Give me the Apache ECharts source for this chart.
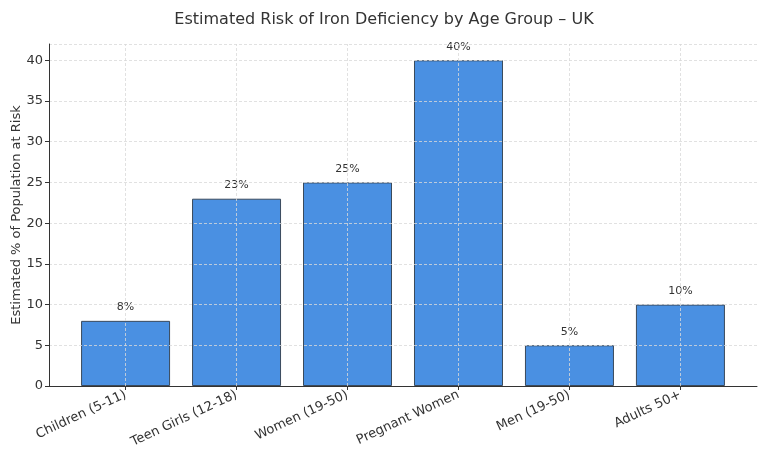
<!DOCTYPE html>
<html lang="en">

<head>
  <meta charset="UTF-8">
  <title>Iron deficiency</title>
  <script src="https://cdn.jsdelivr.net/npm/echarts@6/dist/echarts.min.js"></script>
  <style>
    body { margin: 0; }
  </style>
</head>

<body>
  <div id="chart" style="width: 768px;height:461px"></div>
  <script>
    // age groups and estimated % at risk
    var groups = ['Children (5-11)', 'Teen Girls (12-18)', 'Women (19-50)', 'Pregnant Women', 'Men (19-50)', 'Adults 50+']
    var risk = [8, 23, 25, 40, 5, 10]
    var positions = [0, 1, 2, 3, 4, 5]

    var font = 'DejaVu Sans'
    var gridLine = { color: '#d9d9d9', type: [3, 2], width: 0.8 }

    var barData = []
    for (var i = 0; i < risk.length; i++) {
      barData.push([positions[i], risk[i]])
    }

    var mCharts = echarts.init(document.getElementById('chart'))
    var option = {
      animation: false,
      title: {
        text: 'Estimated Risk of Iron Deficiency by Age Group – UK',
        left: 'center',
        top: 7,
        textStyle: { fontFamily: font, fontSize: 16, fontWeight: 'normal', color: '#333' }
      },
      grid: { left: 49, right: 11, top: 44, bottom: 75, outerBoundsMode: 'none', containLabel: false },
      xAxis: {
        type: 'value',
        min: -0.69,
        max: 5.69,
        z: 10,
        axisLine: { show: true, onZero: false, lineStyle: { color: '#333', width: 1 } },
        axisTick: { show: true, length: 4, customValues: positions, lineStyle: { color: '#333' } },
        axisLabel: {
          customValues: positions,
          rotate: 25,
          margin: 8,
          fontFamily: font,
          fontSize: 13,
          color: '#333',
          formatter: function (v) { return groups[Math.round(v)] }
        },
        splitLine: { show: false }
      },
      yAxis: {
        type: 'value',
        min: 0,
        max: 42,
        interval: 5,
        z: 10,
        name: 'Estimated % of Population at Risk',
        nameLocation: 'middle',
        nameGap: 26,
        nameMoveOverlap: false,
        nameTextStyle: { fontFamily: font, fontSize: 13, color: '#333' },
        axisLine: { show: true, onZero: false, lineStyle: { color: '#333', width: 1 } },
        axisTick: { show: true, length: 4, lineStyle: { color: '#333' } },
        axisLabel: { fontFamily: font, fontSize: 13, color: '#333', margin: 6,
          showMaxLabel: false },
        splitLine: { show: true, lineStyle: gridLine }
      },
      series: [
        {
          type: 'bar',
          data: barData,
          barWidth: 89,
          itemStyle: { color: '#4a90e2', borderColor: '#3a4a5c', borderWidth: 1 },
          label: {
            show: true,
            position: 'top',
            distance: 8,
            fontFamily: font,
            fontSize: 11,
            color: '#333',
            formatter: function (p) { return p.value[1] + '%' }
          },
          markLine: {
            silent: true,
            symbol: 'none',
            label: { show: false },
            lineStyle: gridLine,
            data: positions.map(function (p) { return { xAxis: p } })
          }
        }
      ]
    }
    mCharts.setOption(option)
  </script>
</body>

</html>
